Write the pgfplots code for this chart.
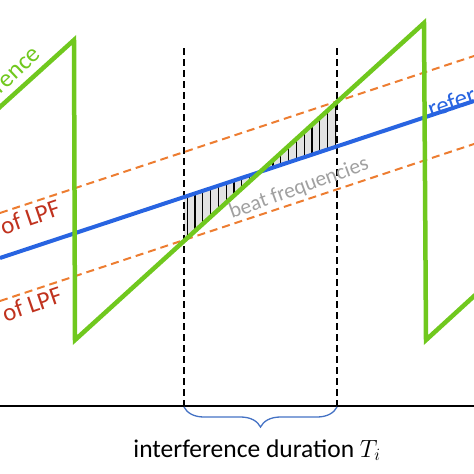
\documentclass[border=0pt]{standalone}
\usepackage{pgfplots}
\pgfplotsset{compat=1.18}
\usepackage{fontspec}
\setmainfont{Carlito}
\usetikzlibrary{patterns.meta,decorations.pathreplacing}
\definecolor{sawgreen}{RGB}{112,200,30}
\definecolor{refblue}{RGB}{40,100,225}
\definecolor{lpforange}{RGB}{237,125,49}
\definecolor{lpfred}{RGB}{192,50,30}
\definecolor{braceblue}{RGB}{68,114,196}
\definecolor{beatgray}{RGB}{160,160,160}
\begin{document}
\begin{tikzpicture}
\useasboundingbox (0,0) rectangle (474pt,474pt);
\clip (0,0) rectangle (474pt,474pt);
\begin{axis}[at={(0,0)}, anchor=south west, width=474pt, height=474pt, scale only axis,
  xmin=0, xmax=474, ymin=0, ymax=474, y dir=reverse, axis lines=none, clip=false]
% hatched beat-frequency regions
\addplot[draw=none, fill=gray!22] coordinates {(184,197.1) (260.1,171.9) (184,241)} -- cycle;
\addplot[draw=none, fill=gray!22] coordinates {(260.1,171.9) (337,102.1) (337,146.5)} -- cycle;
\addplot[draw=none, pattern={Lines[angle=90,distance=7.8pt,line width=1.2pt]}, pattern color=black] coordinates {(184,197.1) (260.1,171.9) (184,241)} -- cycle;
\addplot[draw=none, pattern={Lines[angle=90,distance=7.8pt,line width=1.2pt]}, pattern color=black] coordinates {(260.1,171.9) (337,102.1) (337,146.5)} -- cycle;
% vertical dashed lines
\addplot[black, line width=2pt, dash pattern=on 7pt off 4pt] coordinates {(184,48) (184,406)};
\addplot[black, line width=2pt, dash pattern=on 7pt off 4pt] coordinates {(337,48) (337,406)};
% baseline
\addplot[black, line width=2.5pt] coordinates {(0,406) (474,406)};
% LPF bounds
\addplot[lpforange, line width=2pt, dash pattern=on 8pt off 5pt] coordinates {(0,213) (474,56)};
\addplot[lpforange, line width=2pt, dash pattern=on 8pt off 5pt] coordinates {(0,301) (474,144)};
% reference
\addplot[refblue, line width=4pt] coordinates {(0,258) (474,101)};
% interference sawtooth
\addplot[sawgreen, line width=4.5pt] coordinates {(-10,116) (74,40) (75,340) (424,23) (426,340) (484,287)};
% brace
\draw[braceblue, line width=1.3pt, decorate, decoration={brace, mirror, amplitude=20pt}] (axis cs:184,407) -- (axis cs:337,407);
% labels
\node[inner sep=0, anchor=base east, rotate=43, text=sawgreen, font=\fontsize{25}{29}\selectfont] at (axis cs:42,56) {interference};
\node[inner sep=0, anchor=base west, rotate=19, text=refblue, font=\fontsize{25}{29}\selectfont] at (axis cs:431,118) {reference};
\node[inner sep=0, anchor=base east, rotate=19, text=lpfred, font=\fontsize{25}{29}\selectfont] at (axis cs:62,215) {cutoff of LPF};
\node[inner sep=0, anchor=base east, rotate=19, text=lpfred, font=\fontsize{25}{29}\selectfont] at (axis cs:64,302) {cutoff of LPF};
\node[inner sep=0, anchor=base west, rotate=20, text=beatgray, font=\fontsize{21.5}{25}\selectfont] at (axis cs:232,219) {beat frequencies};
\node[inner sep=0, anchor=base, font=\fontsize{25.5}{30}\selectfont] at (axis cs:257,457) {interference duration $T_i$};
\end{axis}
\end{tikzpicture}
\end{document}
